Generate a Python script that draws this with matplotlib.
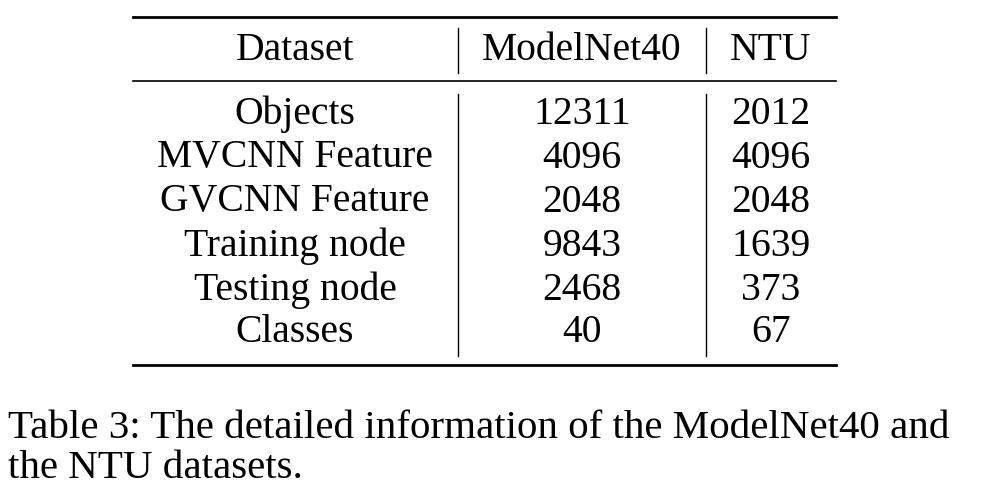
import matplotlib
matplotlib.use("Agg")
import matplotlib.pyplot as plt

header = ["Dataset", "ModelNet40", "NTU"]
rows = ["Objects", "MVCNN Feature", "GVCNN Feature", "Training node", "Testing node", "Classes"]
modelnet = ["12311", "4096", "2048", "9843", "2468", "40"]
ntu = ["2012", "4096", "2048", "1639", "373", "67"]
caption = ["Table 3: The detailed information of the ModelNet40 and", "the NTU datasets."]

plt.rcParams['font.family'] = ['Liberation Serif', 'DejaVu Serif']
fig = plt.figure(figsize=(9.83, 4.97), dpi=100)
ax = fig.add_axes([0, 0, 1, 1])
ax.set_xlim(0, 983); ax.set_ylim(497, 0); ax.axis('off')

fs = 28.5
cols = [295, 582, 771]
ax.plot([133, 836], [17, 17], color='black', lw=2)
ax.plot([133, 836], [81, 81], color='black', lw=1.2)
ax.plot([133, 836], [365, 365], color='black', lw=2)
for x in [458, 706]:
    ax.plot([x, x], [28, 73], color='black', lw=1)
    ax.plot([x, x], [94, 356], color='black', lw=1)
for c, h in zip(cols, header):
    ax.text(c, 50, h, ha='center', va='center', fontsize=fs)
ys = [114, 158, 202, 246, 290, 333]
for y, r, m, n in zip(ys, rows, modelnet, ntu):
    ax.text(cols[0], y, r, ha='center', va='center', fontsize=fs)
    ax.text(cols[1], y, m, ha='center', va='center', fontsize=fs)
    ax.text(cols[2], y, n, ha='center', va='center', fontsize=fs)
ax.text(8, 428, caption[0], ha='left', va='center', fontsize=29.5)
ax.text(8, 469, caption[1], ha='left', va='center', fontsize=29.5)
fig.savefig("out.png", dpi=100)
